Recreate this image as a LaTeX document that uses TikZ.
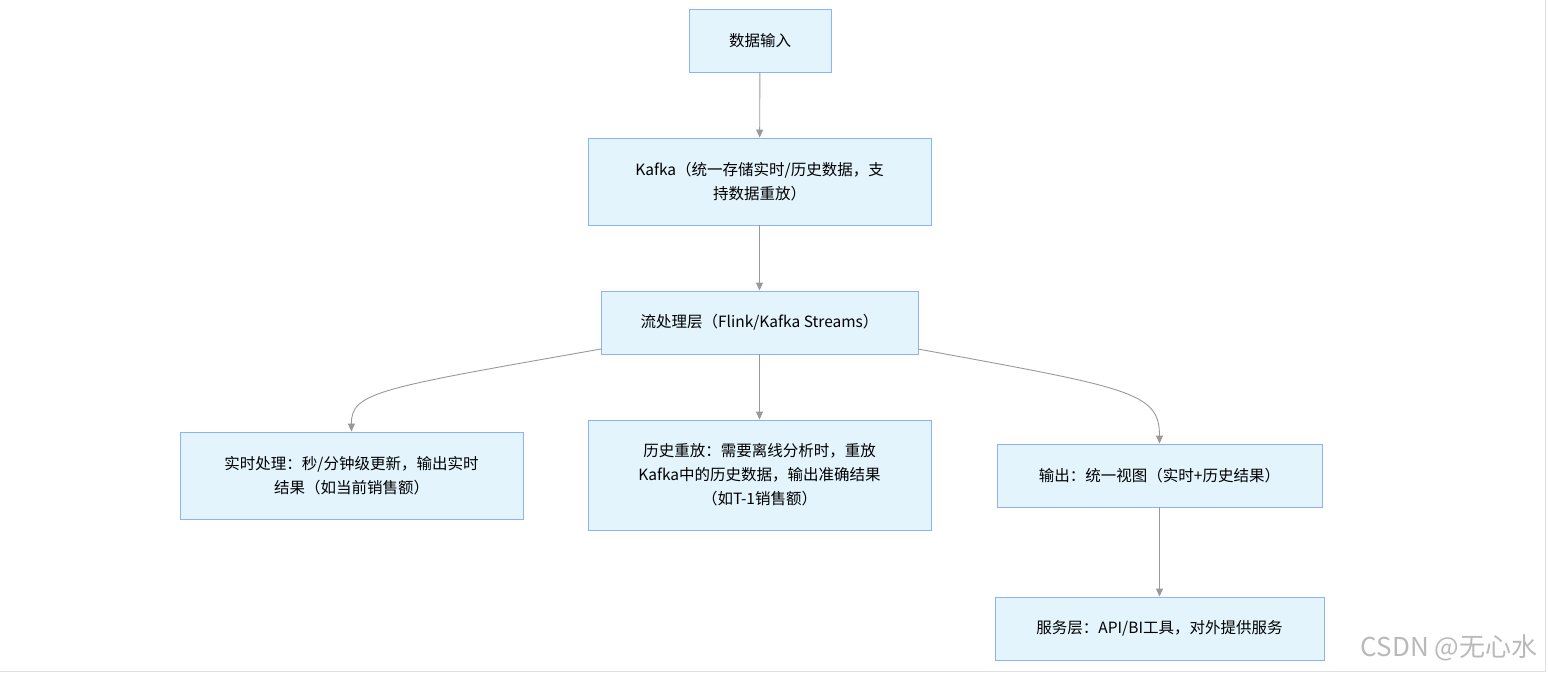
\documentclass[tikz,border=0pt]{standalone}
\usepackage{fontspec}
\setmainfont{Noto Sans CJK SC}
\usetikzlibrary{arrows.meta}
\definecolor{boxfill}{HTML}{E3F4FD}
\definecolor{boxline}{HTML}{8AB4F8}
\definecolor{edge}{HTML}{999999}
\begin{document}
\begin{tikzpicture}[x=1pt,y=-1pt,
  box/.style={draw=boxline,fill=boxfill,line width=0.9pt,align=center,font=\fontsize{15.5}{24}\selectfont,inner sep=0pt},
  conn/.style={draw=edge,line width=0.9pt,-{Triangle[length=8pt,width=7pt]}}]
\useasboundingbox (0,0) rectangle (1548,674);
\draw[gray!25,line width=1pt] (0,671) -- (1545,671) -- (1545,0);
\node[box,minimum width=142pt,minimum height=63pt] (in) at (760,40.5) {数据输入};
\node[box,minimum width=343pt,minimum height=87pt] (kafka) at (759.5,181.5) {Kafka（统一存储实时/历史数据，支\\持数据重放）};
\node[box,minimum width=317pt,minimum height=63pt] (flow) at (759.5,322.5) {流处理层（Flink/Kafka Streams）};
\node[box,minimum width=343pt,minimum height=87pt] (rt) at (351.5,475.5) {实时处理：秒/分钟级更新，输出实时\\结果（如当前销售额）};
\node[box,minimum width=343pt,minimum height=110pt] (hist) at (759.5,475) {历史重放：需要离线分析时，重放\\Kafka中的历史数据，输出准确结果\\（如T-1销售额）};
\node[box,minimum width=325pt,minimum height=63pt] (out) at (1159.5,475.5) {输出：统一视图（实时+历史结果）};
\node[box,minimum width=329pt,minimum height=63pt] (serv) at (1159.5,628.5) {服务层：API/BI工具，对外提供服务};
\coordinate (fl) at (601,349);
\coordinate (fr) at (918,349);
\draw[conn] (in) -- (kafka);
\draw[conn] (kafka) -- (flow);
\draw[conn] (flow) -- (hist);
\draw[conn] (fl) .. controls (380,388) and (351,392) .. (rt.north);
\draw[conn] (fr) .. controls (1130,388) and (1159.5,392) .. (out.north);
\draw[conn] (out) -- (serv);
\node[text=gray!55,font=\fontsize{26}{30}\selectfont,anchor=east] (wm) at (1541,648) {CSDN @无心水};
\end{tikzpicture}
\end{document}
